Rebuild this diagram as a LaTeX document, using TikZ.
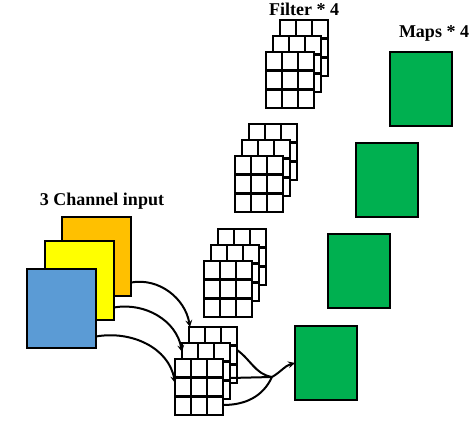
\documentclass[tikz,border=0pt]{standalone}
\usepackage{fontspec}
\setmainfont{Liberation Serif}
\usetikzlibrary{calc}

\definecolor{inorange}{HTML}{FFC000}
\definecolor{inyellow}{HTML}{FFFF00}
\definecolor{inblue}{HTML}{5B9BD5}
\definecolor{mapgreen}{HTML}{00B050}

\tikzset{
  chan/.style={draw, line width=2.4pt, inner sep=0pt, outer sep=0pt, anchor=north west,
    minimum width=69pt, minimum height=79pt},
  filt/.style={draw, fill=white, line width=2.4pt, inner sep=0pt, outer sep=0pt, anchor=north west,
    minimum width=48pt, minimum height=56pt,
    path picture={
      \foreach \k in {0.3333,0.6667}{
        \draw[line width=2.4pt] ($(path picture bounding box.north west)!\k!(path picture bounding box.north east)$)
          -- ($(path picture bounding box.south west)!\k!(path picture bounding box.south east)$);
        \draw[line width=2.4pt] ($(path picture bounding box.north west)!\k!(path picture bounding box.south west)$)
          -- ($(path picture bounding box.north east)!\k!(path picture bounding box.south east)$);
      }}},
  fmap/.style={draw, fill=mapgreen, line width=2.4pt, inner sep=0pt, outer sep=0pt, anchor=north west,
    minimum width=62pt, minimum height=74pt},
  lbl/.style={font=\bfseries\fontsize{18}{20}\selectfont, inner sep=0pt},
  arr/.style={-stealth, line width=2pt}
}

\begin{document}
\begin{tikzpicture}[x=1pt,y=-1pt]
  % Picture frame
  \useasboundingbox (0,0) rectangle (474,441);

  % Layer offsets of a filter stack
  \def\dx{7}
  \def\dy{16}

  % Draw the three input channels
  \node[chan, fill=inorange] (cin3) at (62,217) {};
  \node[chan, fill=inyellow] (cin2) at (45,241) {};
  \node[chan, fill=inblue]   (cin1) at (27,269) {};

  % Draw the filter stacks (back, middle, front)
  \foreach \n/\fx/\fy in {1/266/52, 2/235/156, 3/204/261, 4/175/359}{
    \node[filt] (f\n b) at ({\fx+2*\dx}, {\fy-2*\dy}) {};
    \node[filt] (f\n m) at ({\fx+\dx}, {\fy-\dy}) {};
    \node[filt] (f\n f) at (\fx, \fy) {};
  }

  % Draw the feature maps
  \foreach \n/\mx/\my in {1/390/52, 2/356/143, 3/328/234, 4/295/326}{
    \node[fmap] (m\n) at (\mx, \my) {};
  }

  % Labels
  \node[lbl] (tin)  at (102,201) {3 Channel input};
  \node[lbl] (tfil) at (304,9)   {Filter * 4};
  \node[lbl] (tmap) at (434,33)  {Maps * 4};

  % Channels into the last filter stack
  \draw[arr] ([yshift=-26pt]cin3.east) to[out=10,in=100] ([xshift=1pt]f4b.north west);
  \draw[arr] ([yshift=-27pt]cin2.east) to[out=10,in=100] ([yshift=-9pt]f4m.north west);
  \draw[arr] ([yshift=-28pt]cin1.east) to[out=10,in=100] ([yshift=-24pt]f4f.north west);

  % Sum of the filter outputs into one map
  \coordinate (join) at (272,377);
  \draw[line width=2pt] ([yshift=5pt]f4b.east) to[out=-35,in=170] (join);
  \draw[line width=2pt] ([yshift=-7pt]f4m.east) -- (join);
  \draw[line width=2pt] ([yshift=-18pt]f4f.east) to[out=0,in=-115] (join);
  \draw[arr] (join) to[out=30,in=195] (m4.west);
\end{tikzpicture}
\end{document}
